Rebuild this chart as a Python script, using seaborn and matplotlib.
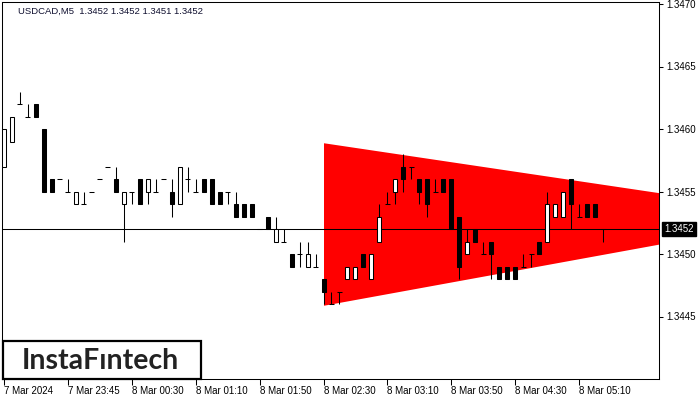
import matplotlib
matplotlib.use("Agg")
import numpy as np
import pandas as pd
import seaborn as sns
from matplotlib import pyplot as plt
from matplotlib.patches import Rectangle
import matplotlib.transforms as mtransforms

# USDCAD M5 candles
opens = [1.3457, 1.3459, 1.3462, 1.3461, 1.3462, 1.3460, 1.3456, 1.3456, 1.3455, 1.3454,
         1.3454, 1.3455, 1.3456, 1.3457, 1.3456, 1.3454, 1.3455, 1.3456, 1.3455, 1.3455,
         1.3456, 1.3455, 1.3454, 1.3456, 1.3455, 1.3456, 1.3456, 1.3455, 1.3455, 1.3454,
         1.3454, 1.3454, 1.3452, 1.3453, 1.3451, 1.3451, 1.3450, 1.3450, 1.3449, 1.3449,
         1.3448, 1.3446, 1.3447, 1.3448, 1.3448, 1.3450, 1.3448, 1.3451, 1.3454, 1.3455,
         1.3457, 1.3457, 1.3456, 1.3456, 1.3455, 1.3456, 1.3456, 1.3453, 1.3450, 1.3452,
         1.3450, 1.3451, 1.3449, 1.3449, 1.3449, 1.3449, 1.3450, 1.3451, 1.3451, 1.3453,
         1.3453, 1.3456, 1.3453, 1.3454, 1.3454, 1.3452]
highs = [1.3460, 1.3461, 1.3463, 1.3462, 1.3462, 1.3460, 1.3456, 1.3456, 1.3456, 1.3455,
         1.3455, 1.3455, 1.3456, 1.3457, 1.3457, 1.3455, 1.3455, 1.3456, 1.3456, 1.3456,
         1.3456, 1.3456, 1.3457, 1.3457, 1.3456, 1.3456, 1.3456, 1.3455, 1.3455, 1.3455,
         1.3454, 1.3454, 1.3452, 1.3453, 1.3453, 1.3452, 1.3450, 1.3451, 1.3451, 1.3450,
         1.3448, 1.3447, 1.3447, 1.3449, 1.3449, 1.3450, 1.3450, 1.3454, 1.3455, 1.3456,
         1.3458, 1.3457, 1.3456, 1.3456, 1.3456, 1.3456, 1.3456, 1.3453, 1.3452, 1.3452,
         1.3451, 1.3451, 1.3449, 1.3449, 1.3449, 1.3450, 1.3450, 1.3451, 1.3455, 1.3454,
         1.3455, 1.3456, 1.3454, 1.3454, 1.3454, 1.3452]
lows = [1.3457, 1.3459, 1.3462, 1.3461, 1.3461, 1.3455, 1.3455, 1.3456, 1.3455, 1.3454,
        1.3454, 1.3455, 1.3456, 1.3457, 1.3455, 1.3451, 1.3454, 1.3454, 1.3454, 1.3455,
        1.3456, 1.3453, 1.3454, 1.3455, 1.3455, 1.3455, 1.3454, 1.3454, 1.3454, 1.3453,
        1.3453, 1.3453, 1.3452, 1.3452, 1.3451, 1.3451, 1.3449, 1.3449, 1.3449, 1.3449,
        1.3446, 1.3446, 1.3446, 1.3448, 1.3448, 1.3449, 1.3448, 1.3451, 1.3454, 1.3454,
        1.3455, 1.3456, 1.3454, 1.3453, 1.3455, 1.3455, 1.3452, 1.3448, 1.3450, 1.3451,
        1.3450, 1.3448, 1.3448, 1.3448, 1.3448, 1.3449, 1.3449, 1.3450, 1.3451, 1.3453,
        1.3453, 1.3452, 1.3453, 1.3453, 1.3453, 1.3451]
closes = [1.3460, 1.3461, 1.3462, 1.3461, 1.3461, 1.3455, 1.3455, 1.3456, 1.3455, 1.3455,
          1.3454, 1.3455, 1.3456, 1.3457, 1.3455, 1.3455, 1.3455, 1.3454, 1.3456, 1.3455,
          1.3456, 1.3454, 1.3457, 1.3456, 1.3455, 1.3455, 1.3454, 1.3454, 1.3455, 1.3453,
          1.3453, 1.3453, 1.3452, 1.3452, 1.3452, 1.3451, 1.3449, 1.3450, 1.3450, 1.3449,
          1.3447, 1.3446, 1.3447, 1.3449, 1.3449, 1.3449, 1.3450, 1.3453, 1.3454, 1.3456,
          1.3456, 1.3457, 1.3455, 1.3454, 1.3455, 1.3455, 1.3452, 1.3449, 1.3451, 1.3451,
          1.3450, 1.3450, 1.3448, 1.3448, 1.3448, 1.3449, 1.3450, 1.3450, 1.3454, 1.3454,
          1.3455, 1.3454, 1.3453, 1.3453, 1.3453, 1.3452]

last_price = 1.3452
title = "USDCAD,M5  1.3452 1.3452 1.3451 1.3452"

# symmetric triangle pattern (bar index -> price)
tri_x = [40, 82]
tri_upper = [1.34589, 1.34549]
tri_lower = [1.34459, 1.34508]

x_tick_bars = [0, 8, 16, 24, 32, 40, 48, 56, 64, 72]
x_tick_labels = ["7 Mar 2024", "7 Mar 23:45", "8 Mar 00:30", "8 Mar 01:10", "8 Mar 01:50",
                 "8 Mar 02:30", "8 Mar 03:10", "8 Mar 03:50", "8 Mar 04:30", "8 Mar 05:10"]
y_ticks = [1.3445, 1.3450, 1.3455, 1.3460, 1.3465, 1.3470]

df = pd.DataFrame({"open": opens, "high": highs, "low": lows, "close": closes})
df["bar"] = np.arange(len(df))
df["o"] = df["open"].round(4)
df["c"] = df["close"].round(4)

sns.set_style("white")
plt.rcParams["font.family"] = ["Liberation Sans", "DejaVu Sans"]

fig = plt.figure(figsize=(7, 4), dpi=100)
ax = fig.add_axes([2 / 700, 21 / 400, 657 / 700, 377 / 400])

ax.fill_between(tri_x, tri_lower, tri_upper, color="#ff0000", lw=0, zorder=1)
ax.axhline(last_price, color="black", lw=0.75, zorder=2)

# wicks
ax.vlines(df["bar"], df["low"], df["high"], color="black", lw=0.75, zorder=3)

# bodies
body = df[df["o"] != df["c"]]
ax.bar(body["bar"], (body["c"] - body["o"]).abs(),
       bottom=np.minimum(body["o"], body["c"]), width=0.5,
       color=np.where(body["c"] > body["o"], "white", "black"),
       edgecolor="black", lw=0.75, zorder=4)

# doji
flat = df[df["o"] == df["c"]]
ax.hlines(flat["c"], flat["bar"] - 0.3, flat["bar"] + 0.3, color="black", lw=0.75, zorder=4)

ax.set_xlim(-0.19, 81.94)
ax.set_ylim(1.3440, 1.347016)

ax.yaxis.tick_right()
ax.set_yticks(y_ticks)
ax.set_yticklabels([f"{v:.4f}" for v in y_ticks])
ax.set_xticks(x_tick_bars)
ax.set_xticklabels(x_tick_labels, ha="left")
ax.tick_params(axis="x", bottom=True, direction="out", length=4, width=0.75, pad=1,
               labelsize=7, colors="black")
ax.tick_params(axis="y", right=True, left=False, direction="out", length=3, width=0.75,
               pad=2.5, labelsize=7, colors="black")
for s in ax.spines.values():
    s.set_color("black")
    s.set_linewidth(0.75)

# current price tag
ax.annotate(f"{last_price:.4f}", xy=(1, last_price),
            xycoords=mtransforms.blended_transform_factory(ax.transAxes, ax.transData),
            xytext=(4, 0), textcoords="offset points", va="center", ha="left",
            color="white", fontsize=7,
            bbox=dict(boxstyle="square,pad=0.25", fc="black", ec="black"),
            annotation_clip=False)

fig.text(18 / 700, 1 - 14 / 400, title, fontsize=6.8, color="#101030", va="baseline")

# logo
fig.add_artist(Rectangle((3 / 700, 1 - 379 / 400), 198 / 700, 38 / 400,
                         transform=fig.transFigure, fc="white", ec="black", lw=1.6, zorder=5))
fig.text(22 / 700, 1 - 369 / 400, "InstaFıntech", fontsize=20.5, color="#222222",
         family=["Lato", "DejaVu Sans"], weight="bold", va="baseline", zorder=6)

fig.savefig("out.png", dpi=100)
